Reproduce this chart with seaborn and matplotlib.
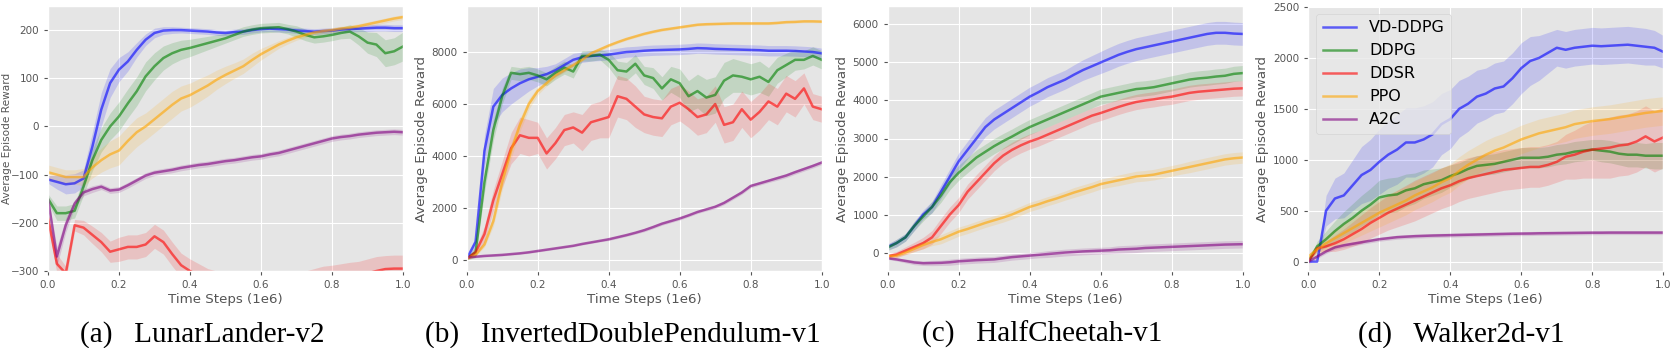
import numpy as np
import matplotlib.pyplot as plt
import seaborn as sns

# time steps (1e6)
steps = [0.0, 0.025, 0.05, 0.075, 0.1, 0.125, 0.15, 0.175, 0.2, 0.225, 0.25, 0.275, 0.3, 0.325,
         0.35, 0.375, 0.4, 0.425, 0.45, 0.475, 0.5, 0.525, 0.55, 0.575, 0.6, 0.625, 0.65, 0.675,
         0.7, 0.725, 0.75, 0.775, 0.8, 0.825, 0.85, 0.875, 0.9, 0.925, 0.95, 0.975, 1.0]

methods = ['VD-DDPG', 'DDPG', 'DDSR', 'PPO', 'A2C']
colors = ['blue', 'green', 'red', 'orange', 'purple']

# (a) LunarLander-v2
lunar_vd = [-110, -115, -120, -118, -108, -42, 35, 90, 118, 135, 159, 180, 194, 199, 200, 200, 199, 198, 197, 195, 194,
            196, 197, 200, 202, 203, 202, 201, 199, 198, 197, 198, 199, 201, 202, 203, 204, 205, 205, 204, 204]
lunar_vd_std = [8, 15, 20, 20, 18, 30, 35, 30, 25, 20, 15, 12, 10, 8, 7, 6, 6, 6, 6, 6, 6,
                6, 6, 6, 6, 6, 6, 6, 6, 6, 6, 6, 6, 6, 6, 6, 7, 7, 7, 7, 7]
lunar_ddpg = [-150, -180, -180, -175, -125, -70, -28, 0, 21, 48, 73, 104, 125, 142, 152, 159, 163, 168, 173, 178, 183,
              190, 197, 201, 204, 205, 206, 202, 197, 190, 185, 187, 190, 194, 197, 187, 174, 170, 152, 156, 166]
lunar_ddpg_std = [10, 15, 15, 15, 18, 22, 25, 28, 30, 30, 30, 30, 28, 25, 22, 20, 18, 16, 14, 12, 10,
                  10, 10, 10, 10, 10, 10, 10, 12, 12, 12, 12, 12, 12, 14, 18, 22, 25, 28, 28, 30]
lunar_ddsr = [-190, -285, -305, -205, -210, -225, -240, -260, -255, -250, -250, -245, -228, -240, -265, -288, -300, -310,
              -320, -330, -335, -340, -345, -345, -345, -345, -345, -340, -335, -330, -325, -320, -318, -315, -312,
              -310, -305, -300, -296, -295, -295]
lunar_ddsr_std = [10, 20, 15, 12, 15, 18, 20, 22, 25, 25, 25, 25, 25, 25, 25, 25, 25, 25, 25, 30, 30,
                  30, 30, 30, 30, 30, 30, 30, 30, 30, 30, 30, 30, 30, 30, 30, 30, 30, 28, 28, 28]
lunar_ppo = [-95, -100, -105, -105, -105, -85, -70, -58, -50, -30, -12, 0, 15, 30, 45, 58, 65, 75, 85, 97, 107,
             116, 125, 138, 150, 160, 170, 178, 185, 190, 195, 198, 200, 203, 205, 208, 212, 216, 220, 224, 227]
lunar_ppo_std = [15, 15, 15, 15, 18, 22, 25, 28, 30, 30, 30, 28, 28, 28, 28, 26, 25, 24, 22, 20, 18,
                 16, 15, 14, 12, 10, 8, 7, 6, 5, 5, 5, 5, 5, 5, 5, 5, 5, 5, 5, 5]
lunar_a2c = [-150, -270, -205, -160, -137, -130, -125, -133, -131, -122, -112, -102, -96, -93, -90, -86, -83, -80, -78,
             -75, -72, -70, -67, -64, -62, -58, -55, -50, -45, -40, -35, -30, -25, -22, -20, -17, -15, -13, -12, -11, -12]
lunar_a2c_std = [8, 20, 15, 8, 7, 7, 6, 6, 6, 6, 6, 6, 6, 6, 6, 6, 6, 6, 6, 6, 6,
                 6, 6, 6, 6, 6, 6, 6, 6, 6, 6, 6, 6, 6, 6, 6, 6, 6, 6, 6, 6]

# (b) InvertedDoublePendulum-v1
idp_vd = [50, 700, 4200, 5900, 6350, 6600, 6800, 6950, 7050, 7150, 7300, 7500, 7700, 7800, 7850, 7870, 7900, 7950, 8000,
          8020, 8050, 8070, 8080, 8090, 8100, 8120, 8150, 8140, 8120, 8110, 8100, 8090, 8080, 8070, 8050, 8050, 8050,
          8040, 8020, 8000, 7950]
idp_vd_std = [50, 200, 600, 700, 650, 600, 550, 450, 350, 300, 250, 250, 250, 200, 200, 200, 200, 200, 200, 200, 200,
              200, 200, 200, 200, 200, 200, 200, 200, 200, 200, 200, 200, 200, 200, 200, 200, 200, 200, 200, 200]
idp_ddpg = [50, 300, 3000, 5000, 6300, 7200, 7150, 7200, 7100, 6950, 7200, 7400, 7250, 7850, 7850, 7900, 7700, 7300,
            7250, 7550, 7100, 7000, 6600, 6950, 6800, 6300, 6500, 6250, 6350, 6900, 7100, 7050, 6950, 7050, 6850, 7300,
            7500, 7700, 7700, 7850, 7700]
idp_ddpg_std = [50, 200, 400, 400, 300, 250, 250, 250, 250, 250, 250, 250, 250, 200, 200, 200, 300, 350, 350, 350, 350,
                400, 450, 500, 550, 600, 650, 700, 700, 700, 650, 600, 600, 600, 550, 500, 450, 400, 350, 350, 350]
idp_ddsr = [50, 300, 1000, 2300, 3300, 4300, 4800, 4700, 4700, 4100, 4500, 5000, 5100, 4900, 5300, 5400, 5500, 6300,
            6200, 5900, 5600, 5500, 5450, 5900, 6050, 5800, 5500, 5600, 6000, 5200, 5300, 5800, 5400, 5700, 6100, 5900,
            6400, 6200, 6600, 5900, 5800]
idp_ddsr_std = [50, 150, 300, 400, 500, 600, 700, 700, 600, 600, 600, 600, 600, 700, 700, 700, 800, 800, 800, 800, 700,
                700, 700, 700, 700, 700, 700, 700, 700, 700, 700, 700, 700, 700, 700, 700, 700, 700, 600, 500, 500]
idp_ppo = [50, 200, 600, 1500, 3000, 4200, 5200, 6000, 6500, 6800, 7100, 7300, 7500, 7700, 7950, 8100, 8250, 8380, 8500,
           8600, 8700, 8780, 8850, 8900, 8950, 9000, 9050, 9070, 9080, 9090, 9100, 9100, 9100, 9100, 9100, 9120, 9150,
           9160, 9180, 9180, 9170]
idp_ppo_std = [20, 50, 100, 200, 300, 300, 250, 200, 150, 100, 100, 80, 80, 60, 60, 60, 60, 50, 50, 50, 50,
               50, 50, 50, 50, 50, 50, 50, 50, 50, 50, 50, 50, 50, 50, 50, 50, 50, 50, 50, 50]
idp_a2c = [100, 130, 160, 180, 200, 230, 260, 300, 350, 400, 450, 500, 550, 620, 680, 740, 800, 880, 960, 1050, 1150,
           1270, 1400, 1500, 1600, 1720, 1850, 1950, 2050, 2200, 2400, 2600, 2850, 2950, 3050, 3150, 3250, 3380, 3500,
           3620, 3750]
idp_a2c_std = [40, 40, 40, 40, 40, 40, 40, 40, 40, 40, 40, 40, 40, 40, 40, 40, 50, 50, 50, 50, 60,
               60, 60, 60, 60, 60, 60, 60, 70, 70, 70, 70, 70, 70, 70, 80, 80, 80, 80, 80, 80]

# (c) HalfCheetah-v1
hc_vd = [150, 250, 400, 700, 1000, 1200, 1600, 2000, 2400, 2700, 3000, 3300, 3500, 3650, 3800, 3950, 4100, 4220, 4350,
         4450, 4550, 4680, 4800, 4900, 5000, 5100, 5200, 5280, 5350, 5400, 5450, 5500, 5550, 5600, 5650, 5700, 5750,
         5780, 5780, 5760, 5750]
hc_vd_std = [80, 100, 100, 120, 120, 150, 180, 200, 220, 230, 250, 250, 250, 250, 250, 250, 250, 250, 250, 250, 250,
             260, 270, 280, 290, 300, 300, 300, 300, 300, 300, 300, 300, 300, 300, 300, 300, 300, 300, 300, 300]
hc_ddpg = [130, 250, 400, 700, 950, 1200, 1500, 1850, 2100, 2300, 2500, 2650, 2800, 2930, 3050, 3180, 3300, 3400, 3500,
           3600, 3700, 3800, 3900, 4000, 4100, 4150, 4200, 4250, 4300, 4320, 4350, 4400, 4450, 4500, 4550, 4580, 4600,
           4630, 4650, 4700, 4720]
hc_ddpg_std = [80, 100, 100, 120, 120, 150, 180, 200, 200, 200, 200, 200, 200, 200, 200, 200, 200, 200, 200, 200, 200,
               200, 200, 200, 200, 200, 200, 200, 200, 200, 200, 200, 200, 200, 200, 200, 200, 200, 200, 200, 200]
hc_ddsr = [-100, -50, 50, 150, 250, 400, 700, 1000, 1250, 1600, 1850, 2100, 2350, 2550, 2700, 2820, 2920, 3000, 3100,
           3200, 3300, 3400, 3500, 3600, 3670, 3750, 3830, 3900, 3960, 4000, 4030, 4070, 4100, 4150, 4200, 4230, 4250,
           4270, 4290, 4310, 4320]
hc_ddsr_std = [60, 80, 100, 120, 150, 180, 200, 200, 200, 200, 200, 200, 200, 200, 200, 200, 200, 200, 200, 200, 200,
               200, 200, 200, 200, 200, 200, 200, 200, 200, 200, 200, 200, 200, 200, 200, 200, 200, 200, 200, 200]
hc_ppo = [-100, -80, 0, 100, 200, 280, 350, 450, 550, 620, 700, 780, 850, 920, 1000, 1100, 1200, 1270, 1350, 1420, 1500,
          1580, 1650, 1720, 1800, 1850, 1900, 1950, 2000, 2020, 2050, 2100, 2150, 2200, 2250, 2300, 2350, 2400, 2450,
          2480, 2500]
hc_ppo_std = [50, 50, 60, 80, 100, 100, 120, 120, 120, 120, 120, 120, 120, 120, 120, 120, 120, 120, 120, 120, 120,
              130, 130, 130, 130, 130, 140, 140, 140, 140, 140, 140, 140, 140, 150, 150, 150, 150, 150, 150, 150]
hc_a2c = [-150, -180, -220, -260, -280, -275, -270, -255, -230, -215, -200, -190, -180, -150, -120, -100, -80, -60, -40,
          -20, 0, 15, 30, 40, 50, 60, 80, 90, 100, 120, 130, 140, 150, 160, 170, 180, 190, 200, 210, 215, 220]
hc_a2c_std = [30, 40, 50, 60, 60, 70, 70, 80, 80, 80, 80, 80, 80, 80, 80, 80, 80, 80, 90, 90, 90,
              90, 90, 90, 90, 90, 100, 100, 100, 100, 100, 100, 100, 100, 100, 100, 100, 100, 100, 100, 100]

# (d) Walker2d-v1
wk_vd = [0, 0, 500, 620, 650, 750, 850, 900, 980, 1050, 1100, 1170, 1170, 1200, 1250, 1350, 1400, 1500, 1550, 1620,
         1650, 1700, 1720, 1800, 1900, 1970, 2000, 2050, 2100, 2080, 2100, 2110, 2120, 2115, 2120, 2125, 2130, 2120,
         2110, 2100, 2060]
wk_vd_std = [0, 0, 150, 200, 220, 250, 280, 300, 320, 330, 340, 340, 340, 330, 320, 300, 290, 280, 270, 260, 250,
             250, 250, 250, 250, 240, 220, 200, 180, 180, 180, 180, 180, 180, 180, 180, 180, 180, 180, 170, 160]
wk_ddpg = [0, 150, 220, 300, 370, 430, 500, 560, 630, 650, 660, 700, 720, 760, 780, 800, 840, 870, 910, 940, 950, 960,
           980, 1000, 1020, 1020, 1020, 1030, 1050, 1060, 1080, 1090, 1100, 1090, 1080, 1060, 1050, 1050, 1040, 1040, 1040]
wk_ddpg_std = [0, 50, 80, 100, 120, 140, 150, 160, 170, 170, 170, 160, 150, 140, 130, 120, 110, 100, 100, 100, 100,
               100, 100, 100, 100, 100, 100, 100, 100, 100, 100, 100, 100, 110, 110, 110, 120, 120, 120, 130, 130]
wk_ddsr = [0, 130, 150, 180, 220, 270, 320, 380, 430, 480, 520, 560, 600, 640, 680, 720, 750, 790, 820, 840, 860, 880,
           900, 910, 920, 930, 930, 950, 980, 1030, 1050, 1080, 1100, 1110, 1120, 1140, 1150, 1180, 1230, 1180, 1220]
wk_ddsr_std = [0, 30, 50, 80, 100, 120, 140, 150, 160, 170, 180, 190, 200, 200, 200, 200, 200, 200, 200, 200, 200,
               200, 200, 200, 200, 200, 200, 200, 200, 220, 240, 260, 280, 290, 300, 300, 300, 300, 300, 300, 300]
wk_ppo = [50, 120, 180, 230, 280, 330, 380, 430, 480, 520, 560, 600, 650, 690, 730, 780, 820, 890, 950, 1000, 1050,
          1090, 1120, 1160, 1200, 1230, 1260, 1280, 1300, 1320, 1350, 1365, 1380, 1390, 1400, 1415, 1430, 1445, 1460,
          1470, 1480]
wk_ppo_std = [20, 50, 70, 90, 100, 110, 120, 130, 140, 140, 140, 140, 140, 140, 140, 140, 140, 140, 140, 140, 140,
              140, 140, 140, 140, 140, 140, 140, 140, 140, 140, 140, 140, 140, 140, 140, 140, 140, 140, 140, 140]
wk_a2c = [0, 50, 100, 140, 160, 175, 190, 205, 220, 230, 240, 245, 250, 253, 256, 258, 260, 262, 264, 266, 268, 270,
          272, 274, 275, 276, 278, 279, 280, 281, 282, 283, 284, 284, 285, 285, 285, 285, 285, 285, 285]
wk_a2c_std = [20, 20, 20, 20, 20, 20, 20, 20, 20, 20, 20, 20, 20, 20, 20, 20, 20, 20, 20, 20, 20,
              20, 20, 20, 20, 20, 20, 20, 20, 20, 20, 20, 20, 20, 20, 20, 20, 20, 20, 20, 20]

panels = [
    ('(a)   LunarLander-v2', [lunar_vd, lunar_ddpg, lunar_ddsr, lunar_ppo, lunar_a2c],
     [lunar_vd_std, lunar_ddpg_std, lunar_ddsr_std, lunar_ppo_std, lunar_a2c_std],
     (-300, 250), [-300, -200, -100, 0, 100, 200]),
    ('(b)   InvertedDoublePendulum-v1', [idp_vd, idp_ddpg, idp_ddsr, idp_ppo, idp_a2c],
     [idp_vd_std, idp_ddpg_std, idp_ddsr_std, idp_ppo_std, idp_a2c_std],
     (-420, 9770), [0, 2000, 4000, 6000, 8000]),
    ('(c)   HalfCheetah-v1', [hc_vd, hc_ddpg, hc_ddsr, hc_ppo, hc_a2c],
     [hc_vd_std, hc_ddpg_std, hc_ddsr_std, hc_ppo_std, hc_a2c_std],
     (-485, 6485), [0, 1000, 2000, 3000, 4000, 5000, 6000]),
    ('(d)   Walker2d-v1', [wk_vd, wk_ddpg, wk_ddsr, wk_ppo, wk_a2c],
     [wk_vd_std, wk_ddpg_std, wk_ddsr_std, wk_ppo_std, wk_a2c_std],
     (-92, 2510), [0, 500, 1000, 1500, 2000, 2500]),
]

plt.style.use('ggplot')
plt.rcParams['font.family'] = ['DejaVu Sans']

fig = plt.figure(figsize=(16.73, 3.48), dpi=100)
lefts = [48, 466.7, 887.7, 1308.3]
caption_x = [202.5, 622.5, 1042.5, 1461.5]
x = np.array(steps)

for i, (caption, means, stds, ylim, yticks) in enumerate(panels):
    ax = fig.add_axes([lefts[i] / 1673, 1 - 271 / 348, 355 / 1673, 265 / 348])
    for name, color, m, s in zip(methods, colors, means, stds):
        m = np.array(m, dtype=float)
        s = np.array(s, dtype=float)
        sns.lineplot(x=x, y=m, color=color, alpha=0.6, linewidth=1.8, label=name, ax=ax)
        ax.fill_between(x, m - s, m + s, color=color, alpha=0.15, linewidth=0)

    ax.set_xlim(0, 1)
    ax.set_ylim(*ylim)
    ax.set_xticks([0.0, 0.2, 0.4, 0.6, 0.8, 1.0])
    ax.set_yticks(yticks)
    ax.tick_params(labelsize=7.5, colors='#555555', length=3)
    ax.set_xlabel('Time Steps (1e6)', fontsize=9.6, color='#555555', labelpad=2)
    # first panel: little room left of the tick labels, so a smaller label
    if i == 0:
        ax.set_ylabel('Average Episode Reward', fontsize=7.6, color='#555555')
        ax.yaxis.set_label_coords(-35.5 / 355, 0.5)
    else:
        ax.set_ylabel('Average Episode Reward', fontsize=9.6, color='#555555')
        ax.yaxis.set_label_coords(-39 / 355, 0.5)

    if i == 3:
        ax.legend(loc='upper left', fontsize=11.5, frameon=True, facecolor='#E8E8E8',
                  edgecolor='#D0D0D0', handlelength=2.1, borderaxespad=0.5)
    else:
        ax.get_legend().remove()

    fig.text(caption_x[i] / 1673, 1 - 342 / 348, caption, ha='center', va='baseline',
             fontsize=21, family='Liberation Serif')

plt.savefig('out.png', dpi=100)
